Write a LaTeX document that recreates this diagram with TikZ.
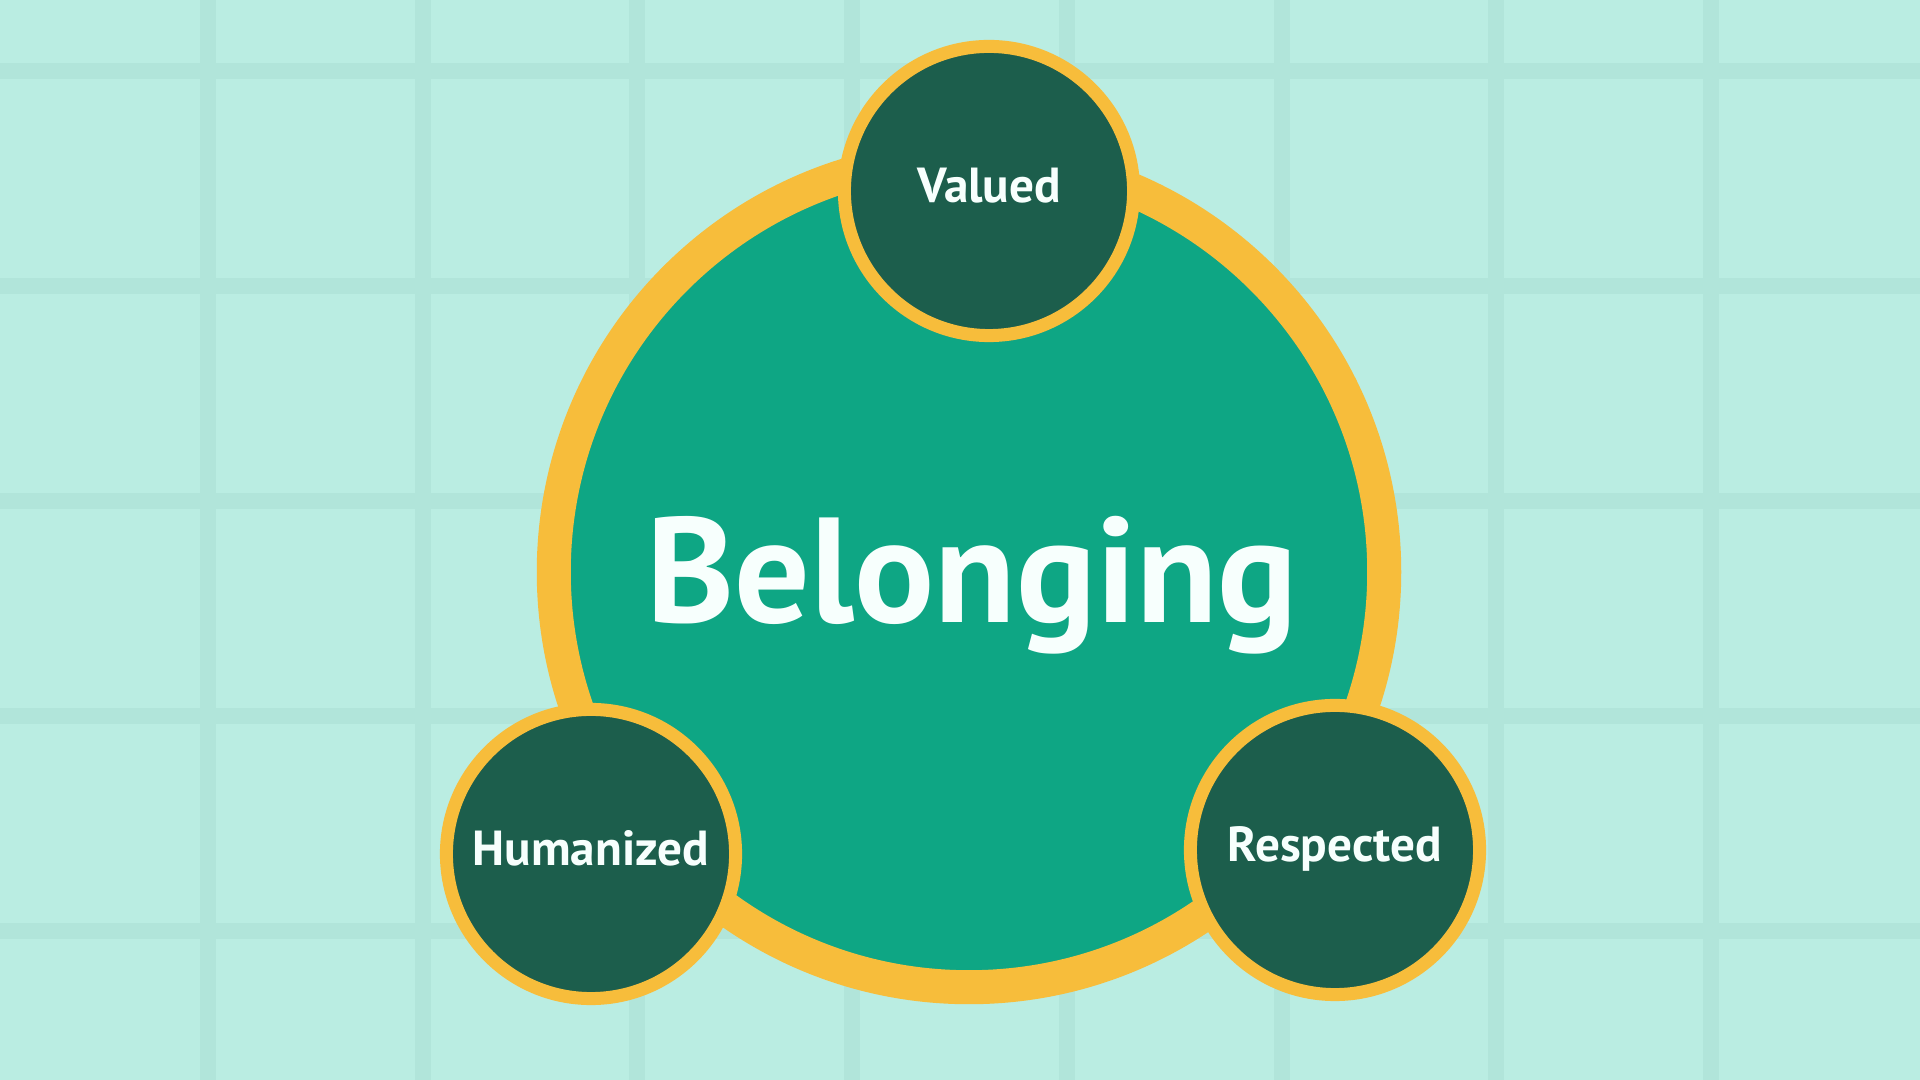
\documentclass[tikz,border=0pt]{standalone}
\usepackage{fontspec}
\setmainfont{PT Sans}[BoldFont={PT Sans Bold}]
\newfontfamily\titrefont{PT Sans}[BoldFont={PT Sans Bold}]

\definecolor{fond}{HTML}{BAEDE2}
\definecolor{ligne}{HTML}{B1E5DA}
\definecolor{jaune}{HTML}{F7BD3B}
\definecolor{vert}{HTML}{0EA684}
\definecolor{vertfonce}{HTML}{1C5E4C}
\definecolor{blanc}{HTML}{F7FFFD}

\begin{document}
\begin{tikzpicture}[x=0.01cm, y=-0.01cm,
  grille/.style={draw=ligne, line width=0.16cm},
  grand/.style={draw=jaune, line width=0.34cm, fill=vert, circle, minimum size=8.30cm, inner sep=0pt},
  petit/.style={draw=jaune, line width=0.13cm, fill=vertfonce, circle, minimum size=2.89cm, inner sep=0pt,
    text=blanc, font=\bfseries\fontsize{14pt}{16pt}\selectfont, text height=0.35cm, text depth=0.11cm}]

% Fond et grille
\fill[fond] (0,0) rectangle (1920,1080);
\useasboundingbox (0,0) rectangle (1920,1080);
\foreach \i in {0,...,7}
  \draw[grille] ({208+214.7*\i},0) -- ({208+214.7*\i},1080);
\foreach \j in {0,...,4}
  \draw[grille] (0,{71+215*\j}) -- (1920,{71+215*\j});

% Grand cercle
\node[grand] (belonging) at (969,572) {};
\node[text=blanc, font=\titrefont\bfseries\fontsize{42.5pt}{48pt}\selectfont, anchor=base] (titre) at (972,623) {Belonging};

% Petits cercles
\node[petit] (valued) at (989,191) {Valued};
\node[petit] (humanized) at (591,854) {Humanized};
\node[petit] (respected) at (1335,850) {Respected};

\end{tikzpicture}
\end{document}
